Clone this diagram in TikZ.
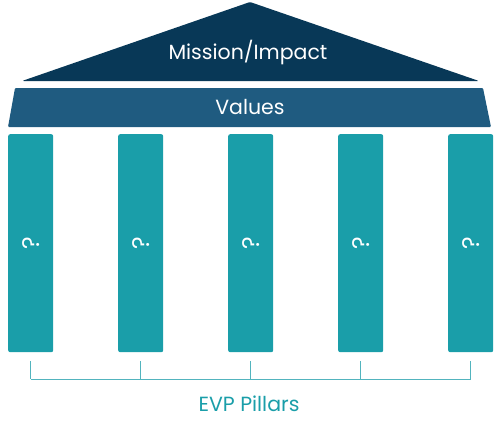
\documentclass[tikz,border=0pt]{standalone}
\usepackage{fontspec}
\setmainfont{Poppins}
\usepackage{tikz}
\usetikzlibrary{positioning, calc}

\definecolor{roofblue}{HTML}{083857}
\definecolor{valueblue}{HTML}{1F5B80}
\definecolor{pillarteal}{HTML}{1A9EA9}
\definecolor{braceteal}{HTML}{52B4BE}

\tikzset{
  pillar/.style={fill=pillarteal, rounded corners=2pt, minimum width=45pt, minimum height=218pt, inner sep=0pt, anchor=north west},
  label/.style={text=white, font=\fontsize{20.5}{22}\selectfont},
  brace/.style={draw=braceteal, line width=0.9pt}
}

\begin{document}
\begin{tikzpicture}[x=1pt, y=-1pt]
    \useasboundingbox (0,0) rectangle (500,428);
    % roof
    \fill[roofblue, rounded corners=1.5pt] (22,81) -- (250,2) -- (479,81) -- cycle;
    \node[label] (mission) at (248,53) {Mission/Impact};
    % beam
    \fill[valueblue, rounded corners=1pt] (15,88) -- (483,88) -- (491,127) -- (8,127) -- cycle;
    \node[label] (values) at (250,107) {Values};
    % pillars
    \foreach \i in {1,...,5} {
      \node[pillar] (p\i) at ({8+110*(\i-1)},134) {};
      \node[label, rotate=90, font=\fontsize{24}{26}\selectfont] (q\i) at ($(p\i.north)+(0,109)$) {?};
      \draw[brace] (p\i.south) ++(0,9) -- ++(0,18);
    }
    \draw[brace] ($(p1.south)+(0,27)$) -- ($(p5.south)+(0,27)$);
    \node[text=pillarteal, font=\fontsize{20.5}{22}\selectfont] (evp) at (249,404) {EVP Pillars};
\end{tikzpicture}
\end{document}
